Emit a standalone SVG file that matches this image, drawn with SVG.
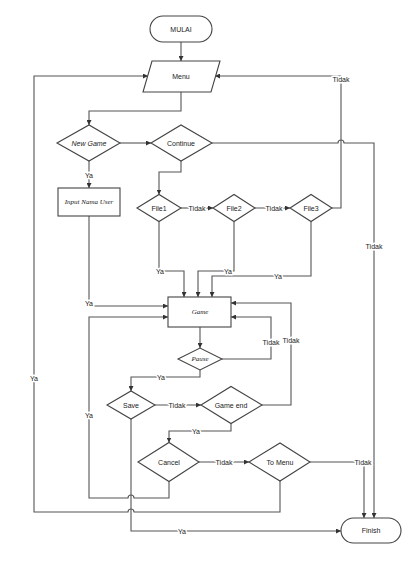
<svg xmlns="http://www.w3.org/2000/svg" width="410" height="571" viewBox="0 0 410 571">
<defs>
<marker id="ah" markerUnits="userSpaceOnUse" markerWidth="5" markerHeight="5" refX="5" refY="2.5" orient="auto">
<path d="M0,0 L5,2.5 L0,5 z" fill="#333"/>
</marker>
<style>
.shape{fill:#fff;stroke:#444;stroke-width:1.1}
.ln{fill:none;stroke:#555;stroke-width:1.1;marker-end:url(#ah)}
.ln2{fill:none;stroke:#555;stroke-width:1.1}
text{font-family:"Liberation Sans",Arial,sans-serif;font-size:7px;fill:#222;text-anchor:middle;dominant-baseline:central}
.it{font-style:italic}
.serif{font-family:"Liberation Serif","Times New Roman",serif;font-style:italic}
.lbl{paint-order:stroke;stroke:#fff;stroke-width:3px;stroke-linejoin:round}
</style>
</defs>
<rect width="410" height="571" fill="#fff"/>
<g id="connectors">
<path class="ln" d="M181,42 V61"/>
<path class="ln" d="M181,92 V111 H89 V125"/>
<path class="ln" d="M120,143 H151"/>
<path class="ln" d="M89,161 V188"/>
<path class="ln" d="M181,161 V172 H159 V194.5"/>
<path class="ln" d="M181,208 H213"/>
<path class="ln" d="M255,208 H290"/>
<path class="ln" d="M332,208 H341 V76 H215"/>
<path class="ln" d="M212,143 H338 a3,3 0 0 1 6,0 H374 V518"/>
<path class="ln" d="M159,221.5 V271 H184 V297"/>
<path class="ln" d="M234,221.5 V271 H198 V297"/>
<path class="ln" d="M311,221.5 V276 H212 V297"/>
<path class="ln" d="M89,216 V306 H168"/>
<path class="ln" d="M200,327 V348"/>
<path class="ln" d="M222,359 H271 V317 H231"/>
<path class="ln" d="M200,370 V377 H131 V391"/>
<path class="ln" d="M155,405 H201"/>
<path class="ln" d="M262,405 H291 V303 H231"/>
<path class="ln" d="M231,423.5 V431 H169 V442.5"/>
<path class="ln" d="M199,462 H249"/>
<path class="ln" d="M310,462 H364 V518"/>
<path class="ln" d="M169,481.5 V498 H134 a3,3 0 0 0 -6,0 H89 V317 H168"/>
<path class="ln" d="M280,481 V512 H134 a3,3 0 0 0 -6,0 H34 V76 H148"/>
<path class="ln" d="M131,419 V531 H341"/>
<text class="lbl" x="89" y="175">Ya</text>
<text class="lbl" x="197" y="208">Tidak</text>
<text class="lbl" x="274" y="208">Tidak</text>
<text class="lbl" x="341" y="79">Tidak</text>
<text class="lbl" x="374" y="246">Tidak</text>
<text class="lbl" x="160" y="271">Ya</text>
<text class="lbl" x="228" y="271">Ya</text>
<text class="lbl" x="278" y="276">Ya</text>
<text class="lbl" x="89" y="303">Ya</text>
<text class="lbl" x="271" y="342">Tidak</text>
<text class="lbl" x="291" y="340">Tidak</text>
<text class="lbl" x="161" y="377">Ya</text>
<text class="lbl" x="177" y="405">Tidak</text>
<text class="lbl" x="196" y="431">Ya</text>
<text class="lbl" x="224" y="462">Tidak</text>
<text class="lbl" x="363" y="462">Tidak</text>
<text class="lbl" x="89" y="415">Ya</text>
<text class="lbl" x="34" y="378">Ya</text>
<text class="lbl" x="182" y="531">Ya</text>
</g>
<g id="mulai"><rect class="shape" x="150" y="16" width="62" height="26" rx="13"/><text x="181" y="29">MULAI</text></g>
<g id="menu"><polygon class="shape" points="152,61 220,61 211,92 143,92"/><text x="181" y="76.5">Menu</text></g>
<g id="newgame"><polygon class="shape" points="57,143 89,125 120,143 89,161"/><text class="it" x="89" y="143">New Game</text></g>
<g id="continue"><polygon class="shape" points="151,143 181,125 212,143 181,161"/><text x="181" y="143">Continue</text></g>
<g id="inputnama"><rect class="shape" x="58" y="188" width="62" height="28"/><text class="serif" x="89" y="202">Input Nama User</text></g>
<g id="file1"><polygon class="shape" points="137,208 159,194.5 181,208 159,221.5"/><text x="159" y="208">File1</text></g>
<g id="file2"><polygon class="shape" points="213,208 234,194.5 255,208 234,221.5"/><text x="234" y="208">File2</text></g>
<g id="file3"><polygon class="shape" points="290,208 311,194.5 332,208 311,221.5"/><text x="311" y="208">File3</text></g>
<g id="game"><rect class="shape" x="168" y="297" width="63" height="30"/><text class="serif" x="200" y="312">Game</text></g>
<g id="pause"><polygon class="shape" points="178,359 200,348 222,359 200,370"/><text class="serif" x="200" y="359">Pause</text></g>
<g id="save"><polygon class="shape" points="107,405 131,391 155,405 131,419"/><text x="131" y="405">Save</text></g>
<g id="gameend"><polygon class="shape" points="201,405 231,386.5 262,405 231,423.5"/><text x="231" y="405">Game end</text></g>
<g id="cancel"><polygon class="shape" points="138,462 169,442.5 199,462 169,481.5"/><text x="169" y="462">Cancel</text></g>
<g id="tomenu"><polygon class="shape" points="249,462 280,443 310,462 280,481"/><text x="280" y="462">To Menu</text></g>
<g id="finish"><rect class="shape" x="341" y="518" width="60" height="25" rx="12.5"/><text x="371" y="530.5">Finish</text></g>
</svg>
